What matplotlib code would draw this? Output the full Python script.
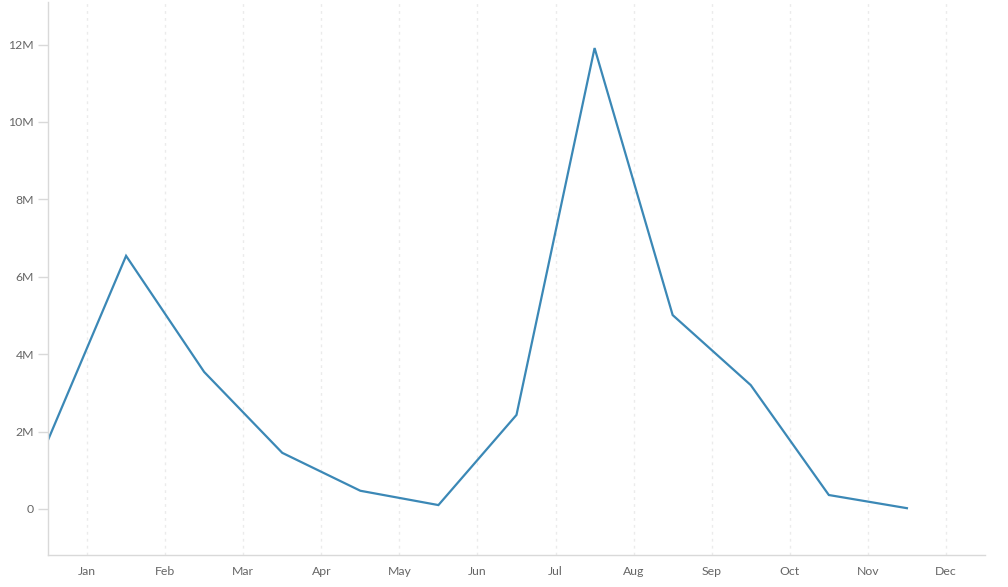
import matplotlib
matplotlib.use("Agg")
import matplotlib.pyplot as plt

months = ["Jan", "Feb", "Mar", "Apr", "May", "Jun",
          "Jul", "Aug", "Sep", "Oct", "Nov", "Dec"]
# value at the start of each month, in millions
values = [1.78, 6.54, 3.54, 1.45, 0.47, 0.10,
          2.43, 11.91, 5.01, 3.20, 0.36, 0.02]
y_ticks = [0, 2, 4, 6, 8, 10, 12]
y_labels = ["0", "2M", "4M", "6M", "8M", "10M", "12M"]

plt.rcParams["font.family"] = ["Lato", "DejaVu Sans"]

fig = plt.figure(figsize=(10.08, 5.87), dpi=100)
ax = fig.add_axes([48 / 1008, 1 - 555 / 587, 937 / 1008, 553 / 587])

x = list(range(len(values)))
ax.plot(x, values, color="#3b88b6", linewidth=1.6, solid_joinstyle="miter")

ax.set_xlim(0, 12)
ax.set_ylim(-1.19, 13.1)

label_pos = [i + 0.5 for i in range(len(months))]
ax.set_xticks(label_pos)
ax.set_xticklabels(months)
ax.set_yticks(y_ticks)
ax.set_yticklabels(y_labels)

for p in label_pos:
    ax.axvline(p, color="#ebebeb", linewidth=1, linestyle=(0, (2, 3)), zorder=0)

for side in ["top", "right"]:
    ax.spines[side].set_visible(False)
for side in ["left", "bottom"]:
    ax.spines[side].set_color("#d9d9d9")
    ax.spines[side].set_linewidth(1)

ax.tick_params(axis="x", length=0, pad=8, labelsize=8.8, labelcolor="#666666")
ax.tick_params(axis="y", length=7, width=1, color="#d9d9d9", pad=3,
               labelsize=8.8, labelcolor="#666666")

fig.savefig("out.png", dpi=100, facecolor="white")
